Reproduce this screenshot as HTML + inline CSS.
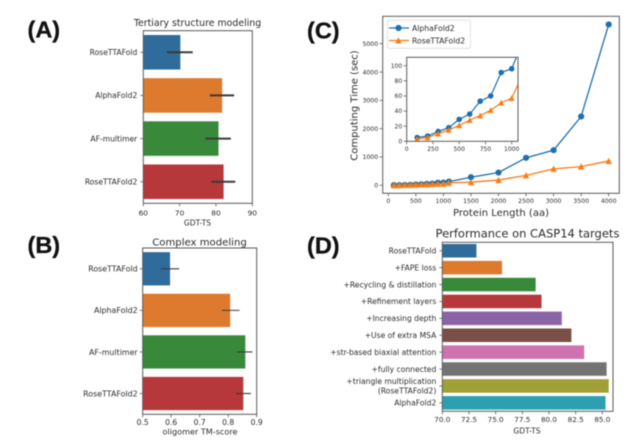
<!DOCTYPE html>
<html>
<head>
<meta charset="utf-8">
<style>
html,body{margin:0;padding:0;background:#fff;width:628px;height:446px;overflow:hidden}
svg{display:block;filter:blur(0.5px)}
text{font-family:"DejaVu Sans","Liberation Sans",sans-serif;fill:#2c2c2c}
.plabel{font-family:"Liberation Sans",sans-serif;font-weight:700;font-size:23.5px;fill:#111;stroke:#111;stroke-width:0.3px}
</style>
</head>
<body>
<svg id="fig" xmlns="http://www.w3.org/2000/svg" width="628" height="446" viewBox="0 0 628 446">
  <text class="plabel" x="27.5" y="37.5">(A)</text>
  <text class="plabel" x="27.5" y="253">(B)</text>
  <text class="plabel" x="307" y="38.5">(C)</text>
  <text class="plabel" x="307" y="253.5">(D)</text>
</svg>
<script>
// Panel A
const catsA = ["RoseTTAFold", "AlphaFold2", "AF-multimer", "RoseTTAFold2"];
const valsA = [70.2, 81.7, 80.7, 82.1];
const errLowA = [66.5, 78.3, 77.1, 78.7];
const errHighA = [73.6, 85.0, 84.1, 85.3];
const ticksA = [60, 70, 80, 90];
// Panel B
const catsB = ["RoseTTAFold", "AlphaFold2", "AF-multimer", "RoseTTAFold2"];
const valsB = [0.596, 0.807, 0.86, 0.853];
const errLowB = [0.563, 0.778, 0.83, 0.827];
const errHighB = [0.628, 0.84, 0.885, 0.88];
const ticksB = [0.5, 0.6, 0.7, 0.8, 0.9];
// Panel C
const lengths = [100, 200, 300, 400, 500, 600, 700, 800, 900, 1000, 1100, 1500, 2000, 2500, 3000, 3500, 4000];
const alphaTimes = [5, 7, 13, 18, 29, 36, 53, 60, 91, 96, 130, 285, 450, 970, 1240, 2430, 5680];
const roseTimes = [3, 5, 10, 15, 21, 28, 34, 41, 51, 57, 87, 110, 185, 350, 580, 660, 860];
const ticksCX = [0, 500, 1000, 1500, 2000, 2500, 3000, 3500, 4000];
const ticksCY = [0, 1000, 2000, 3000, 4000, 5000];
const ticksInsetX = [0, 250, 500, 750, 1000];
const ticksInsetY = [0, 20, 40, 60, 80, 100];
// Panel D
const catsD = ["RoseTTAFold", "+FAPE loss", "+Recycling & distillation", "+Refinement layers", "+Increasing depth", "+Use of extra MSA", "+str-based biaxial attention", "+fully connected", "+triangle multiplication|(RoseTTAFold2)", "AlphaFold2"];
const valsD = [73.2, 75.6, 78.75, 79.3, 81.2, 82.1, 83.3, 85.4, 85.6, 85.3];
const ticksD = [70, 72.5, 75, 77.5, 80, 82.5, 85];

const palette = ["#2f6c9b", "#dd7a2e", "#388a3a", "#b6383b", "#8a64a6", "#7a4f48", "#cf72b0", "#737373", "#a0a037", "#2ca0b0"];
const SPINE = "#5a5a5a";
const NS = "http://www.w3.org/2000/svg";
const fig = document.getElementById("fig");

function mk(parent, tag, attrs, name) {
  const el = document.createElementNS(NS, tag);
  for (const k in attrs) el.setAttribute(k, attrs[k]);
  
  
  parent.appendChild(el);
  return el;
}
function txt(parent, s, x, y, size, anchor, name, extra) {
  const el = mk(parent, "text", Object.assign({x: x, y: y, "font-size": size, "text-anchor": anchor}, extra || {}), name);
  el.textContent = s;
  return el;
}
function frame(g, b, name) {
  mk(g, "rect", {x: b.l, y: b.t, width: b.r - b.l, height: b.b - b.t, fill: "none", stroke: SPINE, "stroke-width": 1}, name);
}
function xTick(g, xp, yb, label, size, name, pad) {
  mk(g, "line", {x1: xp, x2: xp, y1: yb, y2: yb + 3, stroke: SPINE, "stroke-width": 0.8}, name + "-mark");
  txt(g, label, xp, yb + (pad || 3.5) + size, size, "middle", name + "-label");
}
function yTick(g, yp, xl, label, size, name) {
  mk(g, "line", {x1: xl - 3, x2: xl, y1: yp, y2: yp, stroke: SPINE, "stroke-width": 0.8}, name + "-mark");
  txt(g, label, xl - 4.5, yp + size * 0.36, size, "end", name + "-label");
}

function barPanel(o) {
  const g = mk(fig, "g", {}, o.name);
  const b = o.box;
  const xs = v => b.l + (v - o.xmin) / (o.xmax - o.xmin) * (b.r - b.l);
  const band = (b.b - b.t) / o.cats.length;
  const yc = i => b.t + band * (i + 0.5);
  const bh = band * 0.8;
  o.vals.forEach((v, i) => {
    mk(g, "rect", {x: xs(o.xmin), y: yc(i) - bh / 2, width: xs(v) - xs(o.xmin), height: bh, fill: palette[i]}, "bar-" + o.cats[i].replace(/[^A-Za-z0-9]+/g, "-").replace(/^-|-$/g, "").toLowerCase());
    if (o.lo) {
      mk(g, "line", {x1: xs(o.lo[i]), x2: xs(o.hi[i]), y1: yc(i), y2: yc(i), stroke: "#3a3a3a", "stroke-width": o.errW}, "error-bar");
    }
    const parts = o.cats[i].split("|");
    const yTickPos = yc(i);
    mk(g, "line", {x1: b.l - 3, x2: b.l, y1: yTickPos, y2: yTickPos, stroke: SPINE, "stroke-width": 0.8}, "y-tick-mark");
    if (parts.length === 1) {
      txt(g, parts[0], b.l - o.labelGap, yTickPos + o.catSize * 0.36, o.catSize, "end", "y-tick-label");
    } else {
      txt(g, parts[0], b.l - o.labelGap, yTickPos - 2, o.catSize, "end", "y-tick-label");
      txt(g, parts[1], b.l - o.labelGap, yTickPos + 7.5, o.catSize, "end", "y-tick-label");
    }
  });
  frame(g, b, "axes-frame");
  o.ticks.forEach(t => xTick(g, xs(t), b.b, o.tickFmt(t), o.tickSize, "x-tick", o.tickPad));
  txt(g, o.title, o.titleX, o.titleY, o.titleSize, "middle", "chart-title");
  txt(g, o.xlabel, o.xlabelX, o.xlabelY, o.xlabelSize, "middle", "x-axis-title");
}

barPanel({name: "panel-a-tertiary-structure", box: {l: 143.3, r: 252.3, t: 30.7, b: 203.3}, xmin: 60, xmax: 90,
  cats: catsA, vals: valsA, lo: errLowA, hi: errHighA, errW: 2, ticks: ticksA, tickFmt: t => String(t), tickPad: 4.8,
  catSize: 7.6, tickSize: 7.4, labelGap: 6, title: "Tertiary structure modeling", titleX: 197.5, titleY: 26, titleSize: 9.4,
  xlabel: "GDT-TS", xlabelX: 197.5, xlabelY: 225.5, xlabelSize: 7.6});

barPanel({name: "panel-b-complex-modeling", box: {l: 142.7, r: 256.7, t: 248, b: 414.3}, xmin: 0.5, xmax: 0.9,
  cats: catsB, vals: valsB, lo: errLowB, hi: errHighB, errW: 1.1, ticks: ticksB, tickFmt: t => t.toFixed(1), tickPad: 3,
  catSize: 7.9, tickSize: 7.6, labelGap: 5, title: "Complex modeling", titleX: 199.5, titleY: 245.5, titleSize: 10.1,
  xlabel: "oligomer TM-score", xlabelX: 200, xlabelY: 434.5, xlabelSize: 8.1});

barPanel({name: "panel-d-casp14-performance", box: {l: 442.3, r: 613, t: 242.3, b: 411.3}, xmin: 70, xmax: 86,
  cats: catsD, vals: valsD, ticks: ticksD, tickFmt: t => t.toFixed(1),
  catSize: 7.6, tickSize: 7.2, labelGap: 6, title: "Performance on CASP14 targets", titleX: 527.5, titleY: 237.5, titleSize: 11.5,
  xlabel: "GDT-TS", xlabelX: 527, xlabelY: 433.7, xlabelSize: 7.6});

function lineSeries(g, xs, ys, xv, yv, color, kind, r, lw, name) {
  const pts = xv.map((x, i) => xs(x) + "," + ys(yv[i])).join(" ");
  const s = mk(g, "g", {}, name);
  mk(s, "polyline", {points: pts, fill: "none", stroke: color, "stroke-width": lw}, name + "-line");
  xv.forEach((x, i) => {
    const px = xs(x), py = ys(yv[i]);
    if (kind === "circle") {
      mk(s, "circle", {cx: px, cy: py, r: r, fill: color}, name + "-point");
    } else {
      mk(s, "polygon", {points: (px - r) + "," + (py + r * 0.95) + " " + (px + r) + "," + (py + r * 0.95) + " " + px + "," + (py - r * 1.05), fill: color}, name + "-point");
    }
  });
}

(function panelC() {
  const g = mk(fig, "g", {}, "panel-c-computing-time");
  const b = {l: 382.7, r: 619.3, t: 16.3, b: 193.3};
  const xs = v => 388.3 + v / 4000 * (608.7 - 388.3);
  const ys = v => 185.3 - v / 5000 * (185.3 - 43.7);
  frame(g, b, "axes-frame");
  ticksCX.forEach(t => xTick(g, xs(t), b.b, String(t), 6.2, "x-tick"));
  ticksCY.forEach(t => yTick(g, ys(t), b.l, String(t), 6.2, "y-tick"));
  lineSeries(g, xs, ys, lengths, alphaTimes, "#1f6fae", "circle", 3.1, 1.3, "series-alphafold2");
  lineSeries(g, xs, ys, lengths, roseTimes, "#fb7a12", "triangle", 3.2, 1.3, "series-rosettafold2");
  txt(g, "Protein Length (aa)", 501, 216, 10, "middle", "x-axis-title");
  txt(g, "Computing Time (sec)", 0, 0, 10, "middle", "y-axis-title", {transform: "translate(357.5,105.5) rotate(-90)"});

  // legend
  const lg = mk(g, "g", {}, "legend");
  mk(lg, "rect", {x: 387.5, y: 20.3, width: 83, height: 28, rx: 1.5, fill: "#fff", stroke: "#ddd", "stroke-width": 0.8}, "legend-frame");
  mk(lg, "line", {x1: 389, x2: 409, y1: 28, y2: 28, stroke: "#1f6fae", "stroke-width": 1.3}, "legend-line-alphafold2");
  mk(lg, "circle", {cx: 398.5, cy: 28, r: 3.1, fill: "#1f6fae"}, "legend-marker-alphafold2");
  txt(lg, "AlphaFold2", 412, 31, 7.7, "start", "legend-entry-alphafold2");
  mk(lg, "line", {x1: 389, x2: 409, y1: 40.5, y2: 40.5, stroke: "#fb7a12", "stroke-width": 1.3}, "legend-line-rosettafold2");
  mk(lg, "polygon", {points: "395.3,43.5 401.7,43.5 398.5,37.3", fill: "#fb7a12"}, "legend-marker-rosettafold2");
  txt(lg, "RoseTTAFold2", 412, 43.5, 7.7, "start", "legend-entry-rosettafold2");

  // inset
  const ig = mk(g, "g", {}, "inset-chart");
  const ib = {l: 406.7, r: 518, t: 57.3, b: 141.3};
  const ixs = v => ib.l + v / 1000 * (511.7 - ib.l);
  const iys = v => ib.b - v / 100 * (ib.b - 65.7);
  mk(ig, "rect", {x: ib.l, y: ib.t, width: ib.r - ib.l, height: ib.b - ib.t, fill: "#fff"}, "inset-background");
  const defs = mk(ig, "defs", {}, "inset-defs");
  const cp = mk(defs, "clipPath", {id: "insetClip"}, "inset-clip");
  mk(cp, "rect", {x: ib.l, y: ib.t, width: ib.r - ib.l, height: ib.b - ib.t}, "inset-clip-rect");
  const inner = mk(ig, "g", {"clip-path": "url(#insetClip)"}, "inset-series");
  lineSeries(inner, ixs, iys, lengths, alphaTimes, "#1f6fae", "circle", 2.8, 1.2, "inset-series-alphafold2");
  lineSeries(inner, ixs, iys, lengths, roseTimes, "#fb7a12", "triangle", 2.9, 1.2, "inset-series-rosettafold2");
  frame(ig, ib, "inset-frame");
  ticksInsetX.forEach(t => xTick(ig, ixs(t), ib.b, String(t), 6, "inset-x-tick"));
  ticksInsetY.forEach(t => yTick(ig, iys(t), ib.l, String(t), 6, "inset-y-tick"));
})();
</script>
</body>
</html>
